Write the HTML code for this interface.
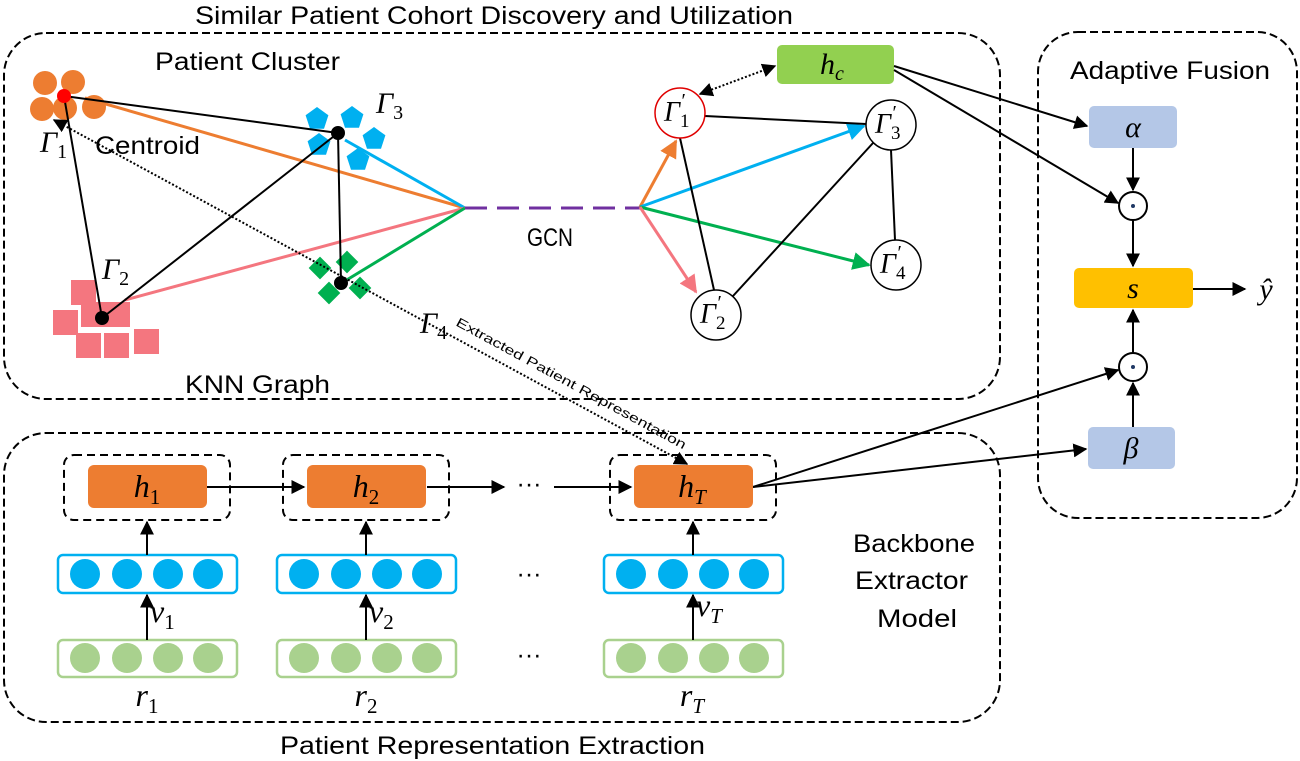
<!DOCTYPE html>
<html><head><meta charset="utf-8"><style>
html,body{margin:0;padding:0;background:#fff;}
svg{display:block;}
.t{font-family:"Liberation Sans",sans-serif;font-size:25px;fill:#000;}
.m{font-family:"Liberation Serif",serif;font-style:italic;fill:#000;}
</style></head><body>
<svg width="1300" height="761" viewBox="0 0 1300 761" xmlns="http://www.w3.org/2000/svg">
<defs>
<marker id="a" viewBox="0 0 10 10" refX="9" refY="5" markerWidth="7" markerHeight="7" orient="auto-start-reverse"><path d="M0,0L10,5L0,10z" fill="#000"/></marker>
<marker id="ab" viewBox="0 0 10 10" refX="9" refY="5" markerWidth="6" markerHeight="6" orient="auto"><path d="M0,0L10,5L0,10z" fill="#00b0f0"/></marker>
<marker id="ao" viewBox="0 0 10 10" refX="9" refY="5" markerWidth="6" markerHeight="6" orient="auto"><path d="M0,0L10,5L0,10z" fill="#ed7d31"/></marker>
<marker id="ag" viewBox="0 0 10 10" refX="9" refY="5" markerWidth="6" markerHeight="6" orient="auto"><path d="M0,0L10,5L0,10z" fill="#00b050"/></marker>
<marker id="ap" viewBox="0 0 10 10" refX="9" refY="5" markerWidth="6" markerHeight="6" orient="auto"><path d="M0,0L10,5L0,10z" fill="#f4767f"/></marker>
</defs>

<text class="t" x="195" y="24" textLength="598" lengthAdjust="spacingAndGlyphs">Similar Patient Cohort Discovery and Utilization</text>

<rect x="4" y="33" width="996" height="366" rx="42" fill="none" stroke="#000" stroke-width="2" stroke-dasharray="8,4"/>
<rect x="1038" y="32" width="259" height="486" rx="40" fill="none" stroke="#000" stroke-width="2" stroke-dasharray="8,4"/>
<rect x="4" y="433" width="996" height="289" rx="42" fill="none" stroke="#000" stroke-width="2" stroke-dasharray="8,4"/>

<text class="t" x="155" y="70" textLength="185" lengthAdjust="spacingAndGlyphs">Patient Cluster</text>
<text class="t" x="185" y="393" textLength="145" lengthAdjust="spacingAndGlyphs">KNN Graph</text>
<text class="t" x="1070" y="79" textLength="200" lengthAdjust="spacingAndGlyphs">Adaptive Fusion</text>
<text class="t" x="280" y="754" textLength="425" lengthAdjust="spacingAndGlyphs">Patient Representation Extraction</text>
<text class="t" x="853" y="552" textLength="122" lengthAdjust="spacingAndGlyphs">Backbone</text>
<text class="t" x="855" y="589" textLength="113" lengthAdjust="spacingAndGlyphs">Extractor</text>
<text class="t" x="877" y="627" textLength="80" lengthAdjust="spacingAndGlyphs">Model</text>

<g fill="#ed7d31">
<circle cx="45" cy="83" r="12"/><circle cx="73" cy="82" r="12"/><circle cx="42" cy="109" r="12"/><circle cx="65" cy="108" r="12"/><circle cx="94" cy="107" r="12"/>
</g>
<g fill="#f4767f">
<rect x="71" y="280" width="25" height="25"/><rect x="53" y="310" width="25" height="25"/><rect x="81" y="302" width="25" height="25"/><rect x="105" y="302" width="25" height="25"/><rect x="76" y="333" width="25" height="25"/><rect x="104" y="333" width="25" height="25"/><rect x="134" y="329" width="25" height="25"/>
</g>
<g fill="#00b0f0">
<polygon points="0,-12 11.4,-3.7 7,9.7 -7,9.7 -11.4,-3.7" transform="translate(317,119)"/>
<polygon points="0,-12 11.4,-3.7 7,9.7 -7,9.7 -11.4,-3.7" transform="translate(352,118)"/>
<polygon points="0,-12 11.4,-3.7 7,9.7 -7,9.7 -11.4,-3.7" transform="translate(319,145)"/>
<polygon points="0,-12 11.4,-3.7 7,9.7 -7,9.7 -11.4,-3.7" transform="translate(374,139)"/>
<polygon points="0,-12 11.4,-3.7 7,9.7 -7,9.7 -11.4,-3.7" transform="translate(358,160)"/>
</g>
<g fill="#00b050">
<rect x="-8" y="-8" width="16" height="16" transform="translate(320,268) rotate(45)"/>
<rect x="-8" y="-8" width="16" height="16" transform="translate(347,262) rotate(45)"/>
<rect x="-8" y="-8" width="16" height="16" transform="translate(329,293) rotate(45)"/>
<rect x="-8" y="-8" width="16" height="16" transform="translate(360,288) rotate(45)"/>
</g>

<line x1="85" y1="98" x2="465" y2="208" stroke="#ed7d31" stroke-width="3"/>
<line x1="345" y1="140" x2="465" y2="208" stroke="#00b0f0" stroke-width="3"/>
<line x1="125" y1="300" x2="465" y2="208" stroke="#f4767f" stroke-width="3"/>
<line x1="345" y1="281" x2="465" y2="208" stroke="#00b050" stroke-width="3"/>
<g stroke="#000" stroke-width="2">
<line x1="64" y1="96" x2="338" y2="133"/>
<line x1="64" y1="96" x2="102" y2="318"/>
<line x1="102" y1="318" x2="338" y2="133"/>
<line x1="338" y1="133" x2="341" y2="283"/>
</g>
<circle cx="64" cy="96" r="7" fill="#ff0000"/>
<circle cx="338" cy="133" r="7" fill="#000"/>
<circle cx="102" cy="318" r="7" fill="#000"/>
<circle cx="341" cy="283" r="7" fill="#000"/>

<text class="m" x="40" y="152" font-size="30">Γ<tspan font-size="20" dy="6" font-style="normal">1</tspan></text>
<text class="t" x="95" y="154" textLength="105" lengthAdjust="spacingAndGlyphs">Centroid</text>
<text class="m" x="376" y="113" font-size="30">Γ<tspan font-size="20" dy="6" font-style="normal">3</tspan></text>
<text class="m" x="102" y="279" font-size="30">Γ<tspan font-size="20" dy="6" font-style="normal">2</tspan></text>
<text class="m" x="420" y="333" font-size="30">Γ<tspan font-size="20" dy="6" font-style="normal">4</tspan></text>

<line x1="687" y1="464" x2="54" y2="120" stroke="#000" stroke-width="2" stroke-dasharray="2,2" marker-start="url(#a)" marker-end="url(#a)"/>
<text font-family="Liberation Sans,sans-serif" font-size="13" transform="translate(455,325) rotate(28.6)" textLength="260" lengthAdjust="spacingAndGlyphs">Extracted Patient Representation</text>

<line x1="465" y1="208" x2="640" y2="208" stroke="#7030a0" stroke-width="3" stroke-dasharray="22,10"/>
<text class="t" x="527" y="246" textLength="46" lengthAdjust="spacingAndGlyphs">GCN</text>

<line x1="640" y1="207" x2="676" y2="141" stroke="#ed7d31" stroke-width="3" marker-end="url(#ao)"/>
<line x1="640" y1="207" x2="864" y2="126" stroke="#00b0f0" stroke-width="3" marker-end="url(#ab)"/>
<line x1="640" y1="207" x2="869" y2="265" stroke="#00b050" stroke-width="3" marker-end="url(#ag)"/>
<line x1="640" y1="207" x2="696" y2="292" stroke="#f4767f" stroke-width="3" marker-end="url(#ap)"/>
<g stroke="#000" stroke-width="2">
<line x1="705" y1="116" x2="866" y2="124"/>
<line x1="680" y1="138" x2="714" y2="290"/>
<line x1="873" y1="143" x2="733" y2="296"/>
<line x1="891" y1="150" x2="895" y2="240"/>
</g>
<circle cx="680" cy="113" r="25" fill="#fff" stroke="#e00000" stroke-width="1.5"/>
<circle cx="891" cy="125" r="25" fill="#fff" stroke="#000" stroke-width="1.5"/>
<circle cx="896" cy="265" r="25" fill="#fff" stroke="#000" stroke-width="1.5"/>
<circle cx="716" cy="315" r="25" fill="#fff" stroke="#000" stroke-width="1.5"/>
<g font-size="28">
<text class="m" x="664" y="121">Γ<tspan font-size="19" dy="6" font-style="normal">1</tspan><tspan dx="-8" dy="-20" font-size="20" font-style="normal">′</tspan></text>
<text class="m" x="875" y="133">Γ<tspan font-size="19" dy="6" font-style="normal">3</tspan><tspan dx="-8" dy="-20" font-size="20" font-style="normal">′</tspan></text>
<text class="m" x="880" y="273">Γ<tspan font-size="19" dy="6" font-style="normal">4</tspan><tspan dx="-8" dy="-20" font-size="20" font-style="normal">′</tspan></text>
<text class="m" x="700" y="323">Γ<tspan font-size="19" dy="6" font-style="normal">2</tspan><tspan dx="-8" dy="-20" font-size="20" font-style="normal">′</tspan></text>
</g>

<rect x="777" y="45" width="117" height="39" rx="5" fill="#92d050"/>
<text class="m" x="832" y="74" font-size="30" text-anchor="middle">h<tspan font-size="20" dy="6">c</tspan></text>
<line x1="700" y1="94" x2="775" y2="66" stroke="#000" stroke-width="2" stroke-dasharray="2,2" marker-start="url(#a)" marker-end="url(#a)"/>
<line x1="894" y1="66" x2="1087" y2="126" stroke="#000" stroke-width="2" marker-end="url(#a)"/>
<line x1="894" y1="70" x2="1118" y2="203" stroke="#000" stroke-width="2" marker-end="url(#a)"/>

<rect x="1089" y="106" width="88" height="42" rx="5" fill="#b4c7e7"/>
<text class="m" x="1133" y="137" font-size="30" text-anchor="middle">α</text>
<rect x="1088" y="427" width="87" height="42" rx="5" fill="#b4c7e7"/>
<text class="m" x="1131" y="458" font-size="30" text-anchor="middle">β</text>
<rect x="1074" y="268" width="119" height="40" rx="5" fill="#ffc000"/>
<text class="m" x="1133" y="298" font-size="30" text-anchor="middle">s</text>
<circle cx="1133" cy="206" r="14" fill="#fff" stroke="#000" stroke-width="2"/>
<circle cx="1133" cy="206" r="2" fill="#1f3864"/>
<circle cx="1133" cy="367" r="14" fill="#fff" stroke="#000" stroke-width="2"/>
<circle cx="1133" cy="367" r="2" fill="#1f3864"/>
<g stroke="#000" stroke-width="2">
<line x1="1133" y1="148" x2="1133" y2="190" marker-end="url(#a)"/>
<line x1="1133" y1="220" x2="1133" y2="266" marker-end="url(#a)"/>
<line x1="1133" y1="353" x2="1133" y2="310" marker-end="url(#a)"/>
<line x1="1133" y1="427" x2="1133" y2="383" marker-end="url(#a)"/>
<line x1="1193" y1="289" x2="1245" y2="289" marker-end="url(#a)"/>
<line x1="753" y1="487" x2="1118" y2="370" marker-end="url(#a)"/>
<line x1="753" y1="487" x2="1086" y2="449" marker-end="url(#a)"/>
</g>
<text class="m" x="1266" y="299" font-size="30" text-anchor="middle">ŷ</text>

<g id="c1">
<rect x="64" y="455" width="166" height="65" rx="10" fill="none" stroke="#000" stroke-width="2" stroke-dasharray="8,5"/>
<rect x="88" y="465" width="119" height="43" rx="6" fill="#ed7d31"/>
<rect x="58" y="555" width="179" height="38" rx="5" fill="#fff" stroke="#00b0f0" stroke-width="2.5"/>
<g fill="#00b0f0"><circle cx="85" cy="574" r="15"/><circle cx="127" cy="574" r="15"/><circle cx="168" cy="574" r="15"/><circle cx="208" cy="574" r="15"/></g>
<rect x="58" y="640" width="179" height="37" rx="5" fill="#fff" stroke="#a9d18e" stroke-width="2.5"/>
<g fill="#a9d18e"><circle cx="85" cy="658" r="15"/><circle cx="127" cy="658" r="15"/><circle cx="168" cy="658" r="15"/><circle cx="208" cy="658" r="15"/></g>
<line x1="147" y1="640" x2="147" y2="595" stroke="#000" stroke-width="2" marker-end="url(#a)"/>
<line x1="147" y1="555" x2="147" y2="522" stroke="#000" stroke-width="2" marker-end="url(#a)"/>
</g>
<use href="#c1" transform="translate(219,0)"/>
<use href="#c1" transform="translate(546,0)"/>

<text class="m" x="147" y="497" font-size="32" text-anchor="middle">h<tspan font-size="21" dy="7" font-style="normal">1</tspan></text>
<text class="m" x="366" y="497" font-size="32" text-anchor="middle">h<tspan font-size="21" dy="7" font-style="normal">2</tspan></text>
<text class="m" x="692" y="497" font-size="32" text-anchor="middle">h<tspan font-size="21" dy="7">T</tspan></text>
<text class="m" x="150" y="622" font-size="32">v<tspan font-size="21" dy="7" font-style="normal">1</tspan></text>
<text class="m" x="369" y="622" font-size="32">v<tspan font-size="21" dy="7" font-style="normal">2</tspan></text>
<text class="m" x="696" y="616" font-size="32">v<tspan font-size="21" dy="7">T</tspan></text>
<text class="m" x="147" y="706" font-size="32" text-anchor="middle">r<tspan font-size="21" dy="7" font-style="normal">1</tspan></text>
<text class="m" x="366" y="706" font-size="32" text-anchor="middle">r<tspan font-size="21" dy="7" font-style="normal">2</tspan></text>
<text class="m" x="692" y="706" font-size="32" text-anchor="middle">r<tspan font-size="21" dy="7">T</tspan></text>

<g stroke="#000" stroke-width="2">
<line x1="207" y1="487" x2="304" y2="487" marker-end="url(#a)"/>
<line x1="427" y1="487" x2="504" y2="487" marker-end="url(#a)"/>
<line x1="554" y1="487" x2="631" y2="487" marker-end="url(#a)"/>
</g>
<g class="t" font-size="20" text-anchor="middle">
<text x="529" y="492">···</text>
<text x="529" y="582">···</text>
<text x="529" y="663">···</text>
</g>
</svg>
</body></html>
